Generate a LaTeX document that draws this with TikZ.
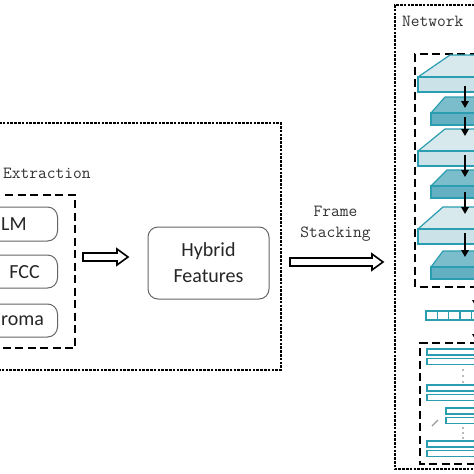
\documentclass[tikz,border=0pt]{standalone}
\usepackage{fontspec}
\setmainfont{Carlito}
\usetikzlibrary{arrows.meta}
\definecolor{tealb}{HTML}{2A9DB0}
\definecolor{lighttop}{HTML}{D8E9ED}
\definecolor{lightfront}{HTML}{CBE2E8}
\definecolor{darktop}{HTML}{7CBDCC}
\definecolor{darkfront}{HTML}{62B0C2}
\begin{document}
\begin{tikzpicture}[x=1pt,y=-1pt,
  dotbox/.style={draw=black,line width=2pt,dash pattern=on 2.6pt off 1.2pt},
  dashbox/.style={draw=black,line width=2.2pt,dash pattern=on 8pt off 4.5pt},
  feat/.style={draw=black!60,line width=1pt,rounded corners=10pt,fill=white},
  lbl/.style={font=\ttfamily\fontsize{17}{21}\selectfont,text=black!80,inner sep=0pt},
  boxtxt/.style={font=\fontsize{20}{26}\selectfont,text=black!85,inner sep=0pt},
  hollow/.style={draw=black,line width=1.6pt,fill=white,line join=miter},
  lface/.style={draw=tealb,line width=1.2pt,fill=lighttop,line join=round},
  lfront/.style={draw=tealb,line width=1.2pt,fill=lightfront},
  dface/.style={draw=tealb,line width=1.2pt,fill=darktop,line join=round},
  dfront/.style={draw=tealb,line width=1.2pt,fill=darkfront},
  flow/.style={draw=black,line width=1.6pt,-{Triangle[length=7pt,width=7.5pt]}},
  bar/.style={draw=tealb,line width=1.3pt,fill=white},
  cell/.style={draw=tealb,line width=1.6pt,fill=white},
  dotmark/.style={fill=black!55,draw=none}
]
\useasboundingbox (0,0) rectangle (474,474);
\clip (0,0) rectangle (474,474);
\fill[white] (0,0) rectangle (474,474);

% ---------- left: feature extraction ----------
\draw[dotbox] (-20,123) -- (281,123) -- (281,370) -- (-20,370);
\node[lbl,anchor=west] (ext) at (3,173) {Extraction};
\draw[dashbox] (-20,195) -- (75,195) -- (75,348) -- (-20,348);

\node[feat,anchor=east,minimum width=100pt,minimum height=34pt] (b1) at (58,224) {};
\node[feat,anchor=east,minimum width=100pt,minimum height=33pt] (b2) at (58,271.5) {};
\node[feat,anchor=east,minimum width=100pt,minimum height=33pt] (b3) at (58,320.5) {};
\node[boxtxt,anchor=west] (t1) at (1,224) {LM};
\node[boxtxt,anchor=east] (t2) at (40,272) {FCC};
\node[boxtxt,anchor=west] (t3) at (1,321) {roma};

\node[feat,minimum width=121pt,minimum height=72pt,align=center,boxtxt,inner sep=0pt] (hyb) at (208.5,263) {Hybrid\\Features};

% hollow arrows
\draw[hollow] (83,253) -- (117,253) -- (117,249) -- (128,257) -- (117,265) -- (117,261) -- (83,261) -- cycle;
\draw[hollow] (290,258) -- (372,258) -- (372,254) -- (383,262) -- (372,270) -- (372,266) -- (290,266) -- cycle;
\node[lbl,align=center] (fs) at (335.5,224) {Frame\\Stacking};

% ---------- right: network ----------
\draw[dotbox] (490,5) -- (395,5) -- (395,469) -- (490,469);
\node[lbl,anchor=west] (net) at (402,21) {Network};
\draw[dashbox] (490,54) -- (415,54) -- (415,287) -- (490,287);

% light layers
\foreach \vx/\ty in {450/55, 445/129, 443/207} {
  \draw[lface] (\vx,\ty) -- (480,\ty) -- (480,\ty+22) -- (418,\ty+22) -- cycle;
  \draw[lfront] (418,\ty+22) rectangle (480,\ty+37);
}
% dark layers
\foreach \vx/\ty in {445/97, 447/170, 443/251} {
  \draw[dface] (\vx,\ty) -- (480,\ty) -- (480,\ty+16) -- (431,\ty+16) -- cycle;
  \draw[dfront] (431,\ty+16) rectangle (480,\ty+28);
}
% arrows between layers
\coordinate (a1s) at (465,86);  \coordinate (a1e) at (465,108);
\coordinate (a2s) at (465,117); \coordinate (a2e) at (465,136);
\coordinate (a3s) at (465,155); \coordinate (a3e) at (465,177);
\coordinate (a4s) at (465,192); \coordinate (a4e) at (465,214);
\coordinate (a5s) at (465,233); \coordinate (a5e) at (465,257);
\foreach \i in {1,...,5} { \draw[flow] (a\i s) -- (a\i e); }

% vector
\coordinate (v1s) at (476,289); \coordinate (v1e) at (476,307);
\draw[flow] (v1s) -- (v1e);
\foreach \x in {426,437.3,448.6,460,471.3} { \draw[cell] (\x,311) rectangle +(11.3,9); }
\coordinate (v2s) at (476,323); \coordinate (v2e) at (476,341);
\draw[flow] (v2s) -- (v2e);

% dense layers box
\draw[dashbox] (490,343) -- (420,343) -- (420,464) -- (490,464);
\foreach \x/\y in {427/349, 427/385, 446/408, 427/441} {
  \draw[bar] (\x,\y) rectangle (480,\y+6);
  \draw[bar] (\x,\y+9.5) rectangle (480,\y+15.5);
}
\foreach \y in {370,376,382, 428,433,438} { \fill[dotmark] (463,\y) circle (0.9pt); }
\draw[black!40,line width=1.2pt] (432,426) -- (438,420);
\end{tikzpicture}
\end{document}
